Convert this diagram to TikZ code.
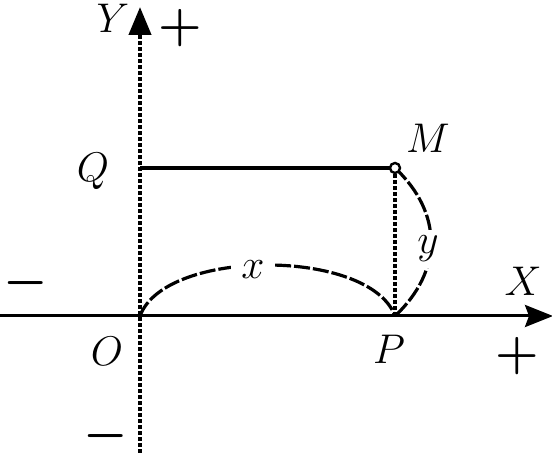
\documentclass[tikz,border=0pt]{standalone}
\usetikzlibrary{arrows.meta}

\tikzset{
  lbl/.style={font=\fontsize{22.5}{26}\selectfont, anchor=base, inner sep=0pt},
  sgn/.style={font=\boldmath\fontsize{26}{30}\selectfont, inner sep=0pt},
  dotline/.style={line width=2.1pt, dash pattern=on 1.9pt off 1.1pt},
  arcline/.style={line width=1.6pt, dash pattern=on 8pt off 1.5pt},
  gap/.style={fill=white, inner xsep=5pt, inner ysep=3pt}
}

\begin{document}
\begin{tikzpicture}[x=0.5pt,y=0.5pt]
            \useasboundingbox (0,0) rectangle (552,453);
            \coordinate (O) at (140,137);
            \coordinate (P) at (395,137);
            \coordinate (Q) at (140,285);
            \coordinate (M) at (395,285);
            \coordinate (Xs) at (0,137);
            \coordinate (Xe) at (553,137);
            \coordinate (Ys) at (140,0);
            \coordinate (Ye) at (140,446);

            % axes
            \draw[line width=1.5pt, -{Stealth[length=14pt,width=11pt,inset=2pt]}] (Xs) -- (Xe);
            \draw[dotline, -{Triangle[length=14pt,width=11pt]}] (Ys) -- (Ye);

            \draw[line width=1.6pt] (Q) -- (M);
            \draw[dotline] (P) -- (M);
            \draw[arcline] (O) .. controls (165,205) and (370,205) .. (P);
            \draw[arcline] (M) .. controls (443,240) and (443,182) .. (P);
            \filldraw[fill=white, line width=1.2pt] (M) circle (5);

            \node[lbl, gap] at (253,174) {$x$};
            \node[lbl, gap] at (428,199) {$y$};
            \node[lbl] at (113,420) {$Y$};
            \node[lbl] at (523,157) {$X$};
            \node[lbl] at (93,271) {$Q$};
            \node[lbl] at (428,300) {$M$};
            \node[lbl] at (107,87) {$O$};
            \node[lbl] at (389,89) {$P$};

            \node[sgn] at (180,425) {$+$};
            \node[sgn] at (517,97) {$+$};
            \node[sgn] at (26,170) {$-$};
            \node[sgn] at (106,17) {$-$};
        \end{tikzpicture}
\end{document}
